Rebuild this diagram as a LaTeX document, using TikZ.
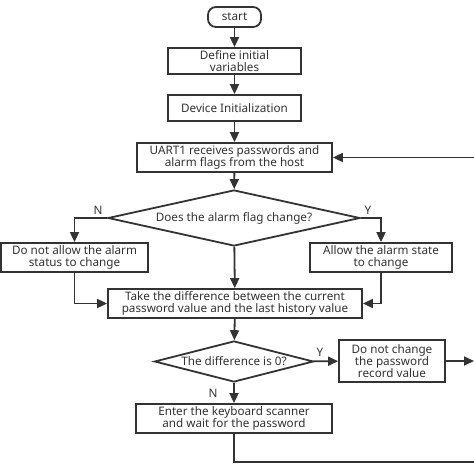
\documentclass[tikz,border=0pt]{standalone}
\usepackage{fontspec}
\setmainfont{Noto Sans}
\usetikzlibrary{arrows.meta,shapes.geometric}

\begin{document}
\begin{tikzpicture}[x=1pt,y=-1pt,font=\fontsize{11.7}{12}\selectfont,
  color=black!80,line width=1.8pt]
	\useasboundingbox (0,0) rectangle (474,474);
	\begin{scope}[every node/.style={draw,align=center,inner sep=0pt,minimum height=29pt}]
    	\node[rounded corners=8pt,minimum width=53pt,minimum height=20pt] (start) at (234.5,17) {start};
    	\node[minimum width=133pt,minimum height=26pt] (define) at (234.5,61) {Define initial\\variables};
    	\node[minimum width=133pt,minimum height=26pt] (device) at (234.5,108) {Device Initialization};
    	\node[minimum width=195pt] (uart) at (234.5,157.5) {UART1 receives passwords and\\alarm flags from the host};
    	\node[diamond,aspect=4.5,minimum width=252pt,minimum height=56pt] (flag) at (234,218) {Does the alarm flag change?};
    	\node[minimum width=147pt] (deny) at (74.5,257.5) {Do not allow the alarm\\status to change};
    	\node[minimum width=142pt] (allow) at (381,257.5) {Allow the alarm state\\to change};
    	\node[minimum width=254pt] (diff) at (235,303.5) {Take the difference between the current\\password value and the last history value};
    	\node[diamond,aspect=3.9,minimum width=159pt,minimum height=41pt] (zero) at (234,361.5) {The difference is 0?};
    	\node[minimum width=106pt,minimum height=42pt] (keep) at (392,361) {Do not change\\the password\\record value};
    	\node[minimum width=196pt] (scan) at (234,418.5) {Enter the keyboard scanner\\and wait for the password};
	\end{scope}
	\coordinate (loopin) at (474,157.5);
	\coordinate (keepout) at (474,361);
	\coordinate (loopout) at (474,462);
	\node (n1) at (98,210) {N};
	\node (y1) at (368,210) {Y};
	\node (y2) at (320,352) {Y};
	\node (n2) at (213,393) {N};
	\begin{scope}[>={Triangle[length=10pt,width=9pt]}]
    	\draw[->] (start) -- (define);
    	\draw[->] (define) -- (device);
    	\draw[->] (device) -- (uart);
    	\draw[->] (uart) -- (flag);
    	\draw[->] (flag.west) -| (deny.north);
    	\draw[->] (flag.east) -| (allow.north);
    	\draw[->] (flag) -- (diff);
    	\draw[->] (deny.south) |- (diff.west);
    	\draw[->] (allow.south) |- (diff.east);
    	\draw[->] (diff) -- (zero);
    	\draw[->] (zero) -- (scan);
    	\draw[->] (zero) -- (keep);
    	\draw[->] (keep) -- (keepout);
    	\draw (scan.south) |- (loopout);
    	\draw[->] (loopin) -- (uart.east);
	\end{scope}
\end{tikzpicture}
\end{document}
